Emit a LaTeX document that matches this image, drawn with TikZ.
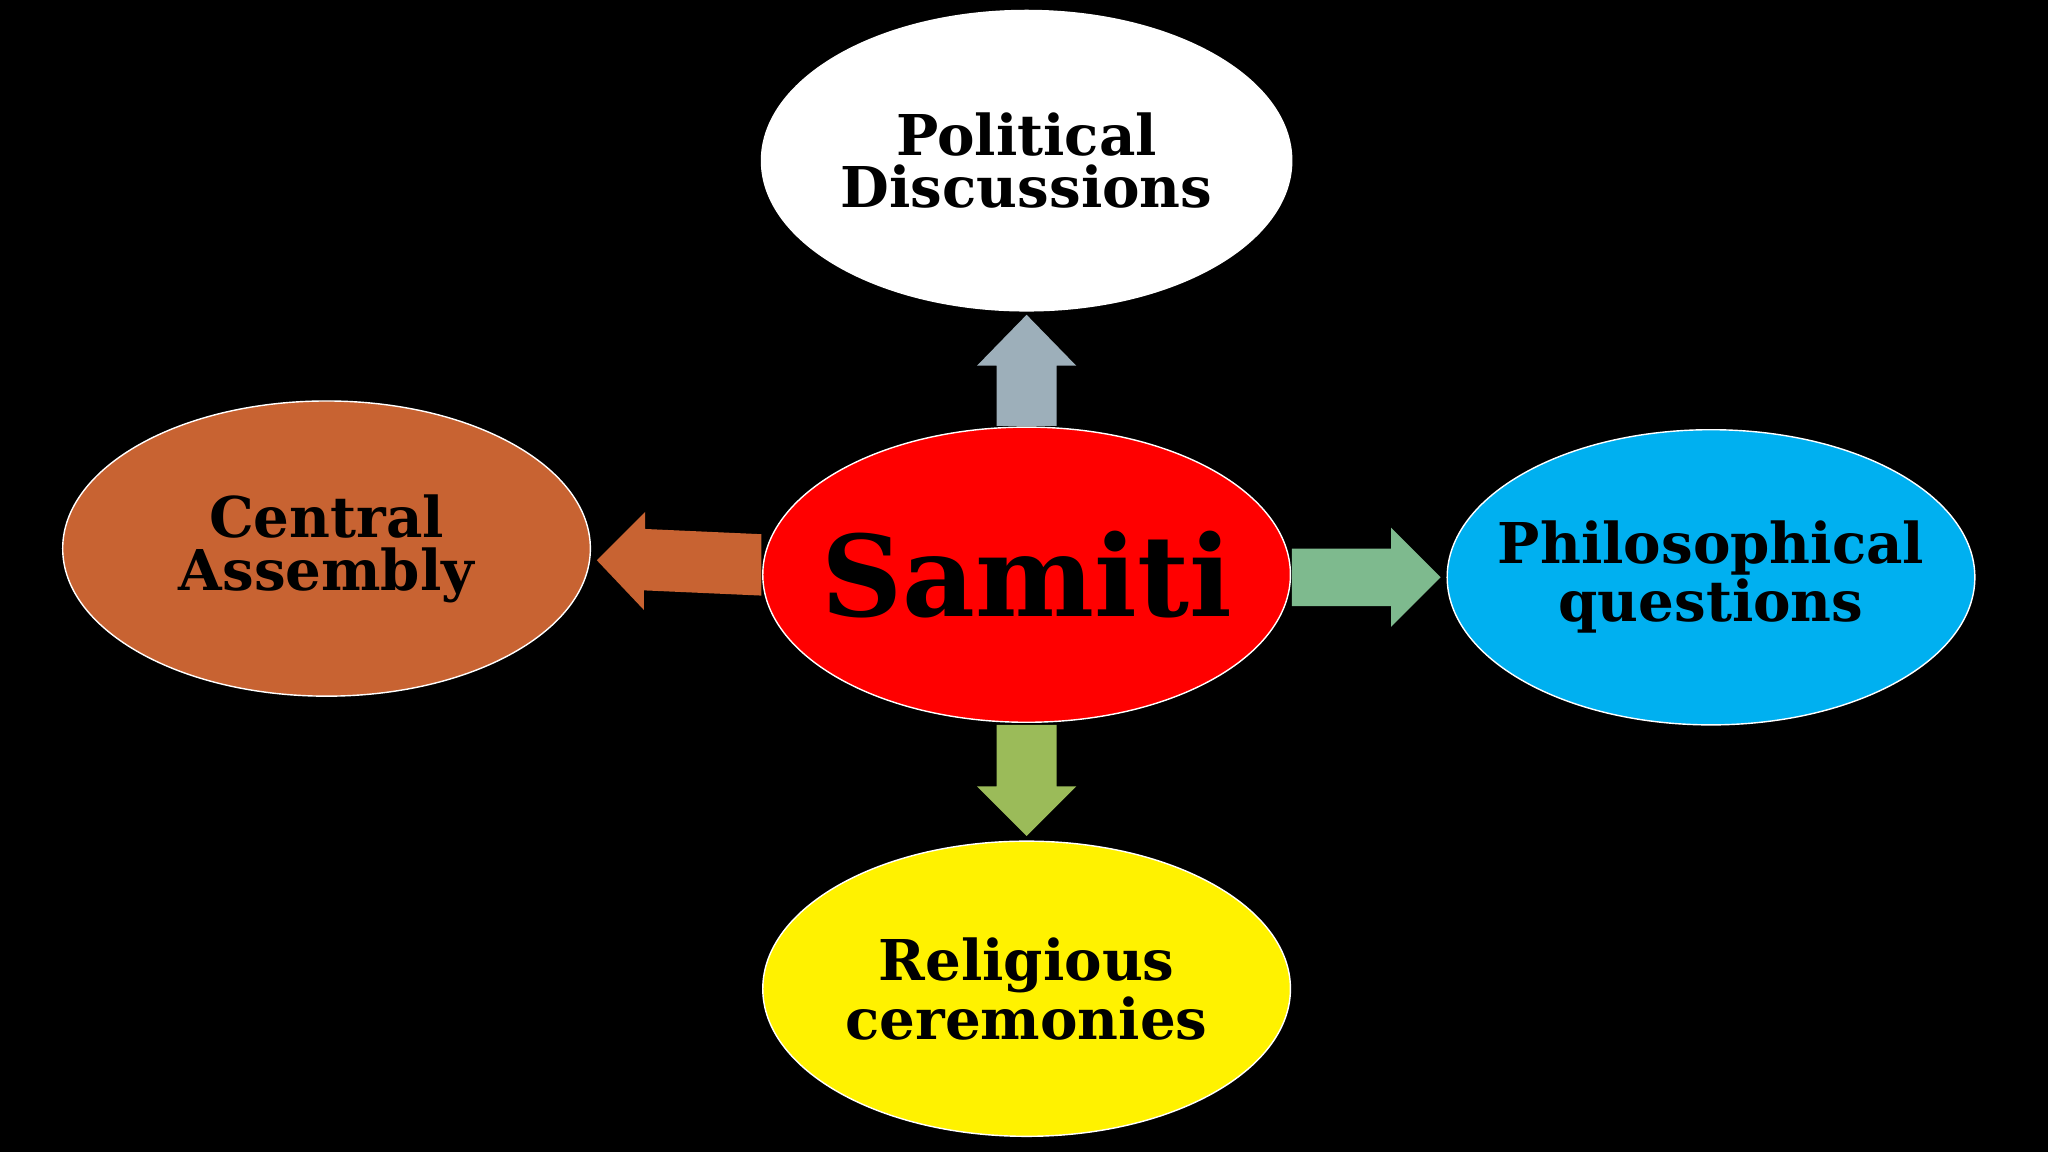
\documentclass[tikz,border=0pt]{standalone}
\usepackage{fontspec}
\setmainfont{DejaVu Serif}
\definecolor{corg}{RGB}{200,99,50}
\definecolor{cblue}{RGB}{0,176,240}
\definecolor{cgrey}{RGB}{157,175,186}
\definecolor{colive}{RGB}{155,187,89}
\definecolor{cmint}{RGB}{126,186,142}
\begin{document}
\begin{tikzpicture}[x=0.01306cm,y=-0.01306cm,
  lbl/.style={align=center,font=\bfseries\fontsize{16}{15}\selectfont,text=black}]
\fill[black] (0,0) rectangle (1568,882);
\useasboundingbox (0,0) rectangle (1568,882);
% ellipses
\filldraw[fill=white,draw=white] (786,123) ellipse [x radius=203,y radius=-115];
\filldraw[fill=red,draw=white] (786,440) ellipse [x radius=202,y radius=-113];
\filldraw[fill=corg,draw=white] (250,420) ellipse [x radius=202,y radius=-113];
\filldraw[fill=cblue,draw=white] (1310,442) ellipse [x radius=202,y radius=-113];
\filldraw[fill=yellow,draw=white] (786,757) ellipse [x radius=202,y radius=-113];
% labels
\node[lbl] (pol) at (786,123) {Political\\Discussions};
\node[align=center,font=\bfseries\fontsize{32}{34}\selectfont] (sam) at (786,440) {Samiti};
\node[lbl] (cen) at (250,420) {Central\\Assembly};
\node[lbl] (phi) at (1310,442) {Philosophical\\questions};
\node[lbl] (rel) at (786,757) {Religious\\ceremonies};
% arrows
\fill[cgrey] (763,326)--(763,280)--(748,280)--(786,241)--(824,280)--(809,280)--(809,326)--cycle;
\fill[colive] (763,555)--(763,602)--(748,602)--(786,640)--(824,602)--(809,602)--(809,555)--cycle;
\fill[cmint] (989,420)--(1065,420)--(1065,404)--(1103,442)--(1065,480)--(1065,464)--(989,464)--cycle;
\fill[corg] (583,409)--(494,405)--(494,392)--(457,429)--(493,467)--(493,452)--(583,456)--cycle;
\end{tikzpicture}
\end{document}
